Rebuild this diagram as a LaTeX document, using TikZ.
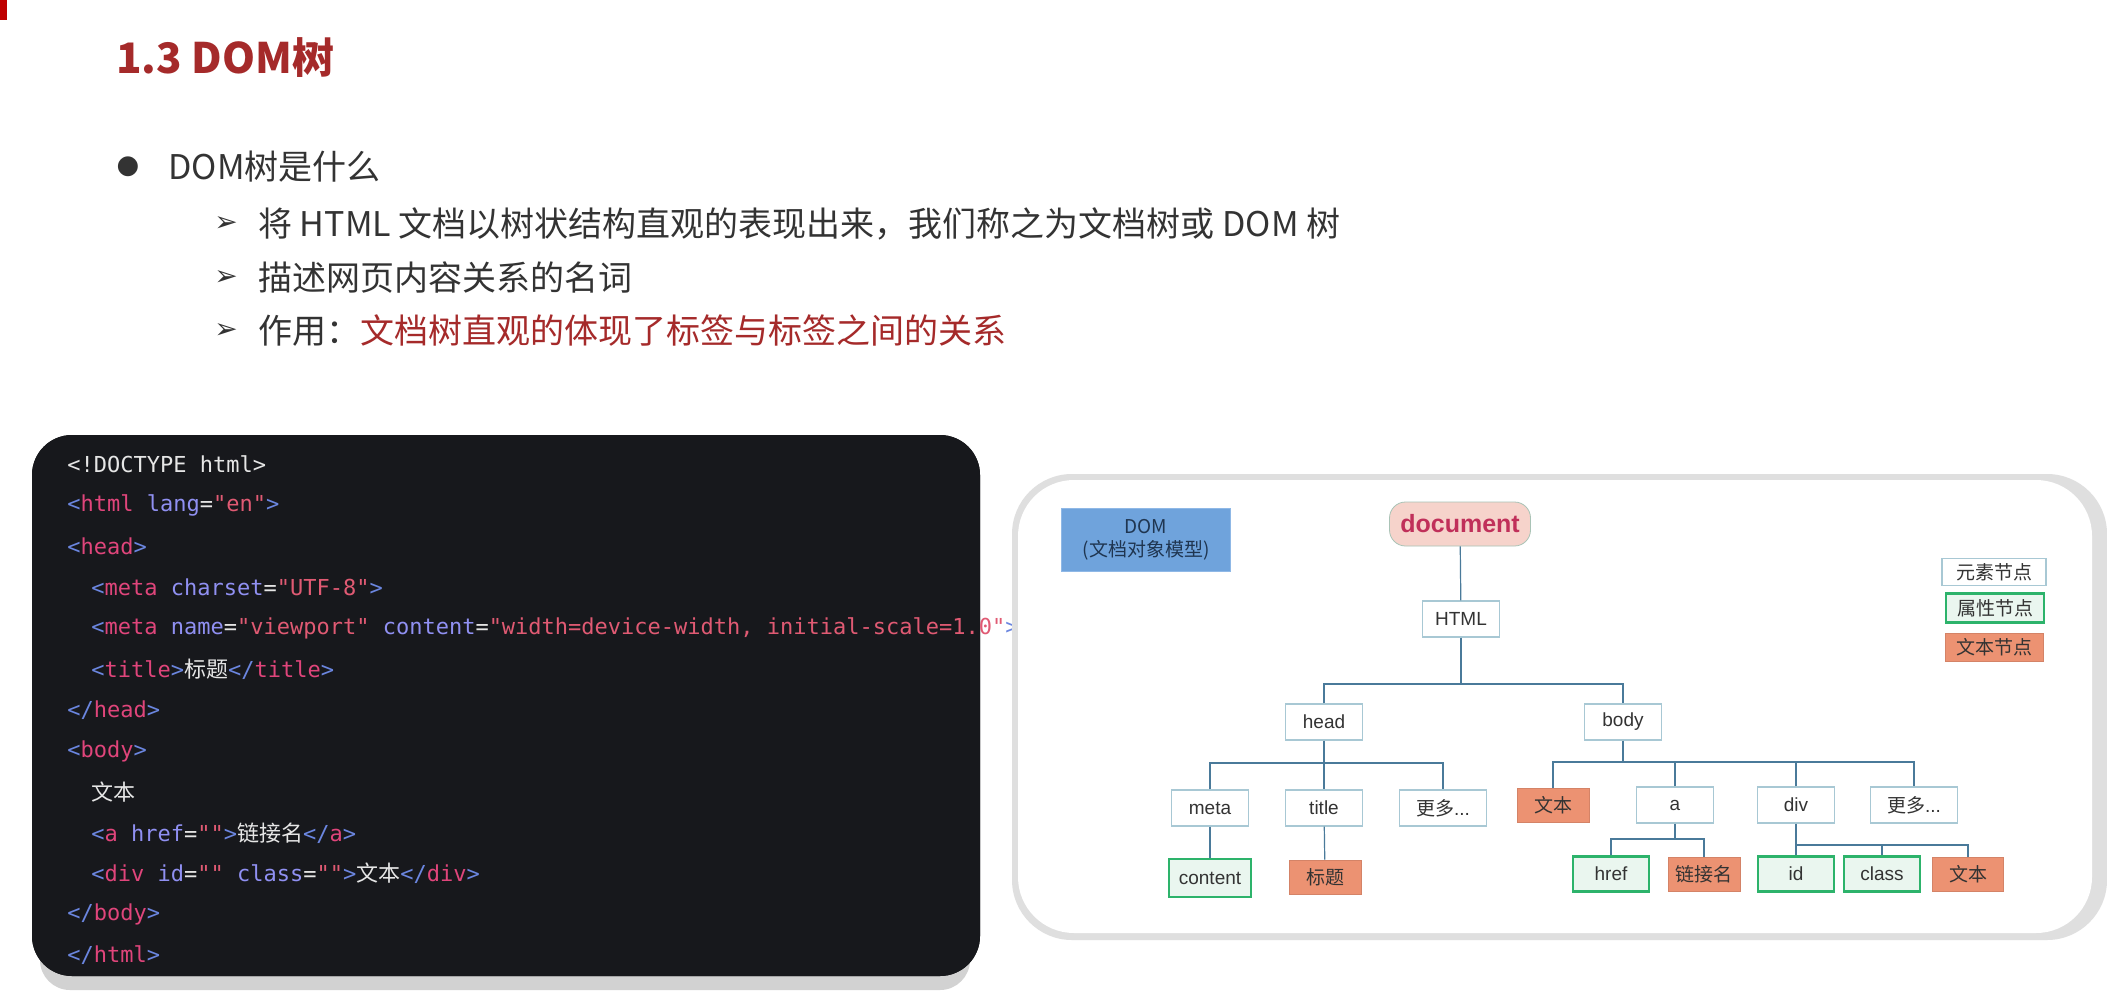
\documentclass[tikz,border=0pt]{standalone}
\usepackage{fontspec}
\setmainfont{Noto Sans CJK SC}
\newfontfamily\cjk{Noto Sans CJK SC}
\newfontfamily\arial{Liberation Sans}
\newfontfamily\dejavu{DejaVu Sans}
\setmonofont{DejaVu Sans Mono}
\definecolor{cb}{HTML}{6B86E0}
\definecolor{ctg}{HTML}{E0457B}
\definecolor{cat}{HTML}{9090F2}
\definecolor{cst}{HTML}{E05A73}
\definecolor{cw}{HTML}{E6E6E6}
\definecolor{titlered}{HTML}{A52A2A}
\definecolor{txt}{HTML}{333333}
\definecolor{edge}{HTML}{4A7A9A}
\definecolor{boxline}{HTML}{A8C8D4}
\definecolor{attrline}{HTML}{2DB36B}
\definecolor{attrfill}{HTML}{EAF6EF}
\definecolor{textfill}{HTML}{EC9272}
\newcommand\cbr[1]{\textcolor{cb}{#1}}
\newcommand\ctg[1]{\textcolor{ctg}{#1}}
\newcommand\cat[1]{\textcolor{cat}{#1}}
\newcommand\cst[1]{\textcolor{cst}{#1}}
\begin{document}
\begin{tikzpicture}[x=0.5pt,y=-0.5pt,
  code/.style={anchor=west,inner sep=0pt,font=\ttfamily\fontsize{11}{13}\selectfont,text=cw},
  elem/.style={draw=boxline,line width=0.6pt,fill=white,minimum width=38.5pt,minimum height=18pt,inner sep=1pt,font=\arial\fontsize{9.5}{11}\selectfont,text=txt},
  attr/.style={draw=attrline,line width=1.2pt,fill=attrfill,minimum width=38pt,minimum height=17.5pt,inner sep=1pt,font=\arial\fontsize{9.5}{11}\selectfont,text=txt},
  tnode/.style={draw=textfill!90!black,line width=0.4pt,fill=textfill,minimum width=36pt,minimum height=17pt,inner sep=1pt,font=\cjk\fontsize{9.5}{11}\selectfont,text=txt},
  conn/.style={draw=edge,line width=0.6pt}]
\useasboundingbox (0,0) rectangle (2107,990);
\fill[white] (0,0) rectangle (2107,990);
\fill[red!75!black] (0,0) rectangle (7,20);
% heading texts
\node[anchor=west,inner sep=0pt,font=\bfseries\fontsize{21}{24}\selectfont,text=titlered] (ttl) at (116,58) {1.3 DOM树};
\node[inner sep=0pt,font=\dejavu\fontsize{13}{15}\selectfont,text=txt] (b0) at (128,167) {●};
\node[anchor=west,inner sep=0pt,font=\fontsize{17}{20}\selectfont,text=txt] (t0) at (168,167) {DOM树是什么};
\node[inner sep=0pt,font=\dejavu\fontsize{14}{16}\selectfont,text=txt] (b1) at (226,224) {➢};
\node[inner sep=0pt,font=\dejavu\fontsize{14}{16}\selectfont,text=txt] (b2) at (226,278) {➢};
\node[inner sep=0pt,font=\dejavu\fontsize{14}{16}\selectfont,text=txt] (b3) at (226,331) {➢};
\node[anchor=west,inner sep=0pt,font=\fontsize{17}{20}\selectfont,text=txt] (t1) at (258,224) {将 HTML 文档以树状结构直观的表现出来，我们称之为文档树或 DOM 树};
\node[anchor=west,inner sep=0pt,font=\fontsize{17}{20}\selectfont,text=txt] (t2) at (258,278) {描述网页内容关系的名词};
\node[anchor=west,inner sep=0pt,font=\fontsize{17}{20}\selectfont,text=txt] (t3) at (258,331) {作用：\textcolor{titlered}{文档树直观的体现了标签与标签之间的关系}};
% code panel
\fill[gray!35,rounded corners=15pt] (40,930) rectangle (970,990);
\fill[black!92!blue!60!white,fill=black!90,rounded corners=20pt] (32,435) rectangle (980,976);
\fill[fill={rgb,255:red,23;green,24;blue,28},rounded corners=20pt] (32,435) rectangle (980,976);
\node[code] (c1) at (67,464) {<!DOCTYPE html>};
\node[code] (c2) at (67,505) {\cbr{<}\ctg{html} \cat{lang}=\cst{"en"}\cbr{>}};
\node[code] (c3) at (67,546) {\cbr{<}\ctg{head}\cbr{>}};
\node[code] (c4) at (91,587) {\cbr{<}\ctg{meta} \cat{charset}=\cst{"UTF-8"}\cbr{>}};
\node[code] (c5) at (91,628) {\cbr{<}\ctg{meta} \cat{name}=\cst{"viewport"} \cat{content}=\cst{"width=device-width, initial-scale=1.0"}\cbr{>}};
\node[code] (c6) at (91,669) {\cbr{<}\ctg{title}\cbr{>}{\cjk 标题}\cbr{</}\ctg{title}\cbr{>}};
\node[code] (c7) at (67,710) {\cbr{</}\ctg{head}\cbr{>}};
\node[code] (c8) at (67,751) {\cbr{<}\ctg{body}\cbr{>}};
\node[code] (c9) at (91,792) {{\cjk 文本}};
\node[code] (c10) at (91,833) {\cbr{<}\ctg{a} \cat{href}=\cst{""}\cbr{>}{\cjk 链接名}\cbr{</}\ctg{a}\cbr{>}};
\node[code] (c11) at (91,873) {\cbr{<}\ctg{div} \cat{id}=\cst{""} \cat{class}=\cst{""}\cbr{>}{\cjk 文本}\cbr{</}\ctg{div}\cbr{>}};
\node[code] (c12) at (67,914) {\cbr{</}\ctg{body}\cbr{>}};
\node[code] (c13) at (67,955) {\cbr{</}\ctg{html}\cbr{>}};
% DOM panel
\fill[gray!25,rounded corners=30pt] (1012,474) rectangle (2107,940);
\fill[white,rounded corners=28pt] (1018,480) rectangle (2092,933);
\node[draw={rgb,255:red,143;green,184;blue,230},fill={rgb,255:red,111;green,163;blue,220},minimum width=84.5pt,minimum height=31.5pt,inner sep=1pt,align=center,font=\fontsize{9.5}{11.5}\selectfont,text={rgb,255:red,31;green,53;blue,80}] (dom) at (1146,540) {DOM\\(文档对象模型)};
\node[draw={rgb,255:red,169;green,195;blue,182},fill={rgb,255:red,246;green,211;blue,203},rounded corners=8pt,minimum width=70.5pt,minimum height=22pt,font=\arial\bfseries\fontsize{12.5}{14}\selectfont,text={rgb,255:red,192;green,48;blue,90}] (doc) at (1460,524) {document};
\node[elem] (html) at (1461,619) {HTML};
\node[elem] (head) at (1324,722) {head};
\node[elem] (body) at (1623,722) {body};
\node[elem] (meta) at (1210,808) {meta};
\node[elem] (title) at (1324,808) {title};
\node[elem,minimum width=43.5pt] (more1) at (1443,808) {{\cjk 更多}...};
\node[tnode] (text1) at (1553,805) {文本};
\node[elem] (a) at (1675,805) {a};
\node[elem] (div) at (1796,805) {div};
\node[elem,minimum width=43.5pt] (more2) at (1914,805) {{\cjk 更多}...};
\node[attr,minimum width=41pt,minimum height=19pt] (content) at (1210,878) {content};
\node[tnode] (biaoti) at (1325,877) {标题};
\node[attr] (href) at (1611,874) {href};
\node[tnode] (link) at (1704,874) {链接名};
\node[attr] (id) at (1796,874) {id};
\node[attr] (class) at (1882,874) {class};
\node[tnode,minimum width=35.5pt] (text2) at (1968,874) {文本};
% legend
\node[elem,minimum width=52pt,minimum height=13.5pt,font=\cjk\fontsize{9.5}{11}\selectfont] (l1) at (1994,572) {元素节点};
\node[attr,minimum width=49pt,minimum height=14.5pt,font=\cjk\fontsize{9.5}{11}\selectfont] (l2) at (1995,608) {属性节点};
\node[tnode,minimum width=49pt,minimum height=14pt] (l3) at (1994,647) {文本节点};
% connectors
\coordinate (top) at (1461,684);
\coordinate (hbar) at (1324,763);
\coordinate (bbar) at (1623,762);
\coordinate (abar) at (1675,839);
\coordinate (dbar) at (1796,845);
\draw[conn] (doc) -- (html);
\draw[conn] (html) -- (top);
\draw[conn] (head.north) |- (top) -| (body.north);
\draw[conn] (head) -- (title);
\draw[conn] (meta.north) |- (hbar) -| (more1.north);
\draw[conn] (body) -- (bbar);
\draw[conn] (text1.north) |- (bbar) -| (more2.north);
\draw[conn] (a.north) -- (a.north |- bbar);
\draw[conn] (div.north) -- (div.north |- bbar);
\draw[conn] (a) -- (abar);
\draw[conn] (href.north) |- (abar) -| (link.north);
\draw[conn] (div) -- (id);
\draw[conn] (dbar) -| (text2.north);
\draw[conn] (class.north) -- (class.north |- dbar);
\draw[conn] (meta) -- (content);
\draw[conn] (title) -- (biaoti);
\end{tikzpicture}
\end{document}
